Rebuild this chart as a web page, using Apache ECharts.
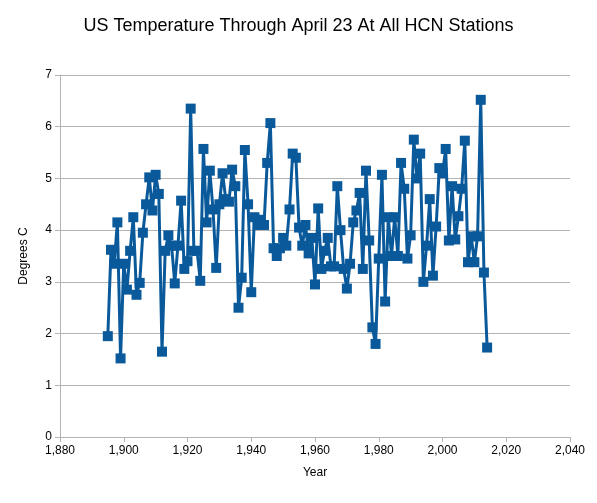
<!DOCTYPE html>
<html>
<head>
<meta charset="utf-8">
<script src="https://cdn.jsdelivr.net/npm/echarts@6/dist/echarts.min.js"></script>
<style>html,body{margin:0;padding:0;background:#fff}#chart{width:597px;height:503px}</style>
</head>
<body>
<div id="chart"></div>
<script>
var startYear = 1895;
var temps = [1.95, 3.62, 3.35, 4.15, 1.52, 3.35, 2.85, 3.6, 4.25, 2.75,
	2.98, 3.95, 4.5, 5.02, 4.38, 5.07, 4.7, 1.65, 3.6, 3.9,
	3.7, 2.97, 3.7, 4.57, 3.25, 3.4, 6.35, 3.6, 3.6, 3.02,
	5.57, 4.15, 5.15, 4.4, 3.27, 4.5, 5.1, 4.6, 4.55, 5.17,
	4.85, 2.5, 3.08, 5.55, 4.5, 2.8, 4.25, 4.1, 4.2, 4.1,
	5.3, 6.07, 3.65, 3.5, 3.65, 3.85, 3.7, 4.4, 5.48, 5.4,
	4.05, 3.7, 4.1, 3.55, 3.85, 2.95, 4.42, 3.25, 3.6, 3.85,
	3.3, 3.3, 4.85, 4.0, 3.25, 2.87, 3.35, 4.15, 4.38, 4.72,
	3.25, 5.15, 3.8, 2.12, 1.8, 3.45, 5.07, 2.62, 4.25, 3.5,
	4.25, 3.5, 5.3, 4.8, 3.45, 3.9, 5.75, 5.0, 5.48, 3.0,
	3.7, 4.6, 3.12, 4.07, 5.2, 5.1, 5.57, 3.8, 4.85, 3.82,
	4.27, 4.8, 5.73, 3.38, 3.88, 3.38, 3.88, 6.52, 3.18, 1.73];

$ = null;
var points = [];
for (var i = 0; i < temps.length; i++) {
	points.push([startYear + i, temps[i]]);
}

var myChart = echarts.init(document.getElementById('chart'));
var option = {
	animation: false,
	title: {
		text: 'US Temperature Through April 23 At All HCN Stations',
		left: 'center',
		top: 12,
		textStyle: { fontFamily: 'Liberation Sans', fontWeight: 'normal', fontSize: 18, color: '#000' }
	},
	grid: { left: 60, right: 27, top: 75, bottom: 66 },
	xAxis: {
		type: 'value',
		min: 1880, max: 2040, interval: 20,
		name: 'Year', nameLocation: 'middle', nameGap: 30,
		nameTextStyle: { fontFamily: 'Liberation Sans', fontSize: 12, color: '#000' },
		axisLine: { lineStyle: { color: '#b3b3b3' } },
		axisTick: { show: true, lineStyle: { color: '#b3b3b3' } },
		axisLabel: { color: '#000', fontFamily: 'Liberation Sans', fontSize: 12 },
		splitLine: { show: false }
	},
	yAxis: {
		type: 'value',
		min: 0, max: 7, interval: 1,
		name: 'Degrees C', nameLocation: 'middle', nameGap: 30,
		nameTextStyle: { fontFamily: 'Liberation Sans', fontSize: 12, color: '#000' },
		axisLine: { show: true, lineStyle: { color: '#b3b3b3' } },
		axisTick: { show: true, lineStyle: { color: '#b3b3b3' } },
		axisLabel: { color: '#000', fontFamily: 'Liberation Sans', fontSize: 12 },
		splitLine: { lineStyle: { color: '#b3b3b3' } }
	},
	series: [{
		type: 'line',
		data: points,
		symbol: 'rect',
		symbolSize: 10,
		lineStyle: { color: '#0a5a9b', width: 3 },
		itemStyle: { color: '#0a5a9b' }
	}]
};
myChart.setOption(option);
</script>
</body>
</html>
